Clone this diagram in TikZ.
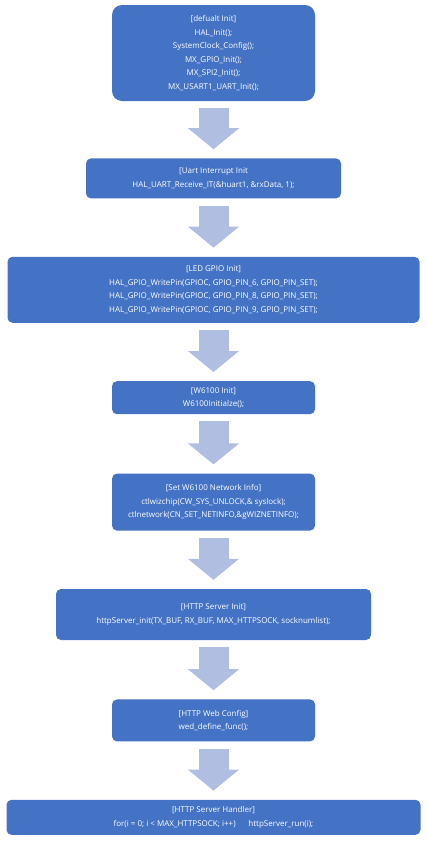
\documentclass[tikz,border=0pt]{standalone}
\usepackage{fontspec}
\setmainfont{Open Sans}
\usepackage{tikz}
\usetikzlibrary{arrows.meta,positioning}
\definecolor{boxblue}{RGB}{68,114,196}
\definecolor{arrowblue}{RGB}{176,190,226}
\tikzset{%
	block/.style    = {fill=boxblue, rectangle, rounded corners=5pt, text=white, align=center, inner sep=0pt, font=\fontsize{8}{13.5}\selectfont}, % Box
	fatarrow/.style = {draw=arrowblue, line width=30pt, -{Triangle[length=21pt,width=50pt]}}, % Block arrow
}

\begin{document}
\begin{tikzpicture}[x=1pt, y=1pt, node distance = 58pt]
	\useasboundingbox (0,0) rectangle (427,-841);
	\node[block, rounded corners=10pt, minimum width=203pt, minimum height=96pt] (init) at (213.5,-53) {[defualt Init]\\HAL\_Init();\\SystemClock\_Config();\\MX\_GPIO\_Init();\\MX\_SPI2\_Init();\\MX\_USART1\_UART\_Init();};
	\node[block, minimum width=255pt, minimum height=40pt, below=57pt of init] (uart) {[Uart Interrupt Init\\HAL\_UART\_Receive\_IT(\&huart1, \&rxData, 1);};
	\node[block, minimum width=412pt, minimum height=66pt, below=of uart] (led) {[LED GPIO Init]\\HAL\_GPIO\_WritePin(GPIOC, GPIO\_PIN\_6, GPIO\_PIN\_SET);\\HAL\_GPIO\_WritePin(GPIOC, GPIO\_PIN\_8, GPIO\_PIN\_SET);\\HAL\_GPIO\_WritePin(GPIOC, GPIO\_PIN\_9, GPIO\_PIN\_SET);};
	\node[block, minimum width=203pt, minimum height=33pt, below=of led] (w6100) {[W6100 Init]\\W6100Initialze();};
	\node[block, minimum width=203pt, minimum height=57pt, below=59pt of w6100] (netinfo) {[Set W6100 Network Info]\\ctlwizchip(CW\_SYS\_UNLOCK,\& syslock);\\ctlnetwork(CN\_SET\_NETINFO,\&gWIZNETINFO);};
	\node[block, minimum width=315pt, minimum height=51pt, below=of netinfo] (httpinit) {[HTTP Server Init]\\httpServer\_init(TX\_BUF, RX\_BUF, MAX\_HTTPSOCK, socknumlist);};
	\node[block, minimum width=203pt, minimum height=42pt, below=59pt of httpinit] (webcfg) {[HTTP Web Config]\\wed\_define\_func();};
	\node[block, minimum width=414pt, minimum height=35pt, below=of webcfg] (handler) {[HTTP Server Handler]\\for(i = 0; i < MAX\_HTTPSOCK; i++)\hspace{1.6em}httpServer\_run(i);};
	
	\draw[fatarrow] ([yshift=-7pt]init.south) -- ([yshift=9pt]uart.north);
	\draw[fatarrow] ([yshift=-7pt]uart.south) -- ([yshift=9pt]led.north);
	\draw[fatarrow] ([yshift=-7pt]led.south) -- ([yshift=9pt]w6100.north);
	\draw[fatarrow] ([yshift=-7pt]w6100.south) -- ([yshift=9pt]netinfo.north);
	\draw[fatarrow] ([yshift=-7pt]netinfo.south) -- ([yshift=9pt]httpinit.north);
	\draw[fatarrow] ([yshift=-7pt]httpinit.south) -- ([yshift=9pt]webcfg.north);
	\draw[fatarrow] ([yshift=-7pt]webcfg.south) -- ([yshift=9pt]handler.north);
\end{tikzpicture}
\end{document}
